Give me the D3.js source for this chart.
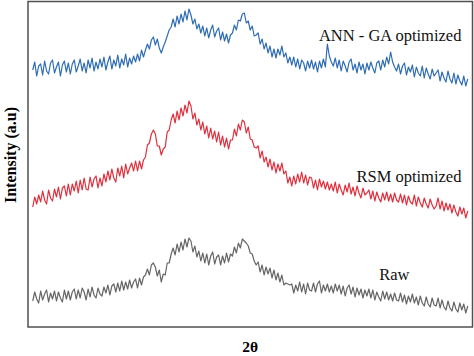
<!DOCTYPE html>
<html><head><meta charset="utf-8">
<script src="https://cdn.jsdelivr.net/npm/d3@7"></script>
<style>body{margin:0;background:#fff;}svg{display:block;}</style>
</head><body>
<script>
// 2θ sampling grid: 5° .. 60°, every 0.25°
const thetaStart = 5, thetaStep = 0.25;
const seriesNames = ["ANN - GA optimized", "RSM optimized", "Raw"];
const seriesColors = ["#2f6db3", "#e0303e", "#666666"];

const annGA = [
257,265,251,261,263,252,266,256,253,264,267,254,260,265,251,262,266,255,
264,253,263,267,255,261,268,256,264,254,267,259,269,256,265,258,268,
260,270,257,265,271,258,267,261,272,259,268,262,273,260,269,263,271,
265,273,266,277,270,
277,283,278,287,290,
282,288,279,274,280,
285,291,297,300,308,
300,311,303,313,305,316,307,318,
312,303,308,298,303,294,
301,291,299,289,297,302,290,296,
299,287,295,286,293,284,292,
294,302,297,307,306,313,
314,304,306,297,301,291,292,
294,283,288,278,284,274,
281,270,278,269,278,272,281,270,
274,264,270,
262,270,260,268,258,267,264,256,266,259,
267,258,265,255,266,259,268,260,
283,271,265,
261,269,259,267,256,266,261,255,265,268,257,263,254,265,257,263,253,264,
257,265,259,254,264,266,257,267,260,270,263,
275,265,260,256,
263,253,261,264,252,260,255,262,250,260,254,251,261,249,259,253,248,258,251,
254,257,246,255,249,245,256,248,244,254,243,252,246,242,251,241,248];

const rsm = [
120,130,123,132,125,136,127,123,137,129,126,138,130,140,128,139,141,131,
143,132,143,136,146,134,147,137,149,138,137,150,140,148,151,139,149,
141,153,145,156,147,158,149,145,159,151,161,149,163,153,159,164,156,
166,156,166,158,167,
170,182,184,193,197,
193,181,181,172,178,
180,195,197,207,213,
204,216,207,219,211,222,214,226,
221,208,214,202,208,197,
205,193,201,189,199,188,196,185,
195,182,191,180,189,178,187,
187,198,191,203,197,207,
205,194,200,188,187,180,179,
181,169,176,165,170,160,
168,157,165,154,163,156,164,153,
156,144,150,
141,151,143,153,145,155,144,152,142,150,
149,139,147,137,148,140,146,138,
145,137,143,
136,145,134,143,137,132,142,135,144,133,140,131,141,134,129,139,132,134,
137,128,136,126,135,129,125,134,127,135,126,
133,125,134,127,
125,133,124,132,122,131,125,123,132,121,130,124,120,129,123,119,128,122,118,
121,129,118,126,116,124,117,123,114,122,115,111,120,113,119,109,116];

const raw = [
26,35,28,24,36,27,33,37,25,34,28,36,26,35,29,25,37,28,
36,27,35,38,28,37,29,39,35,27,38,30,40,32,29,39,33,
31,40,34,42,32,41,43,35,44,36,46,37,45,38,47,39,45,
48,39,49,42,50,
52,58,52,62,64,
60,51,57,45,53,
52,64,64,73,79,
72,83,75,85,77,88,80,89,
86,75,81,70,76,66,
74,64,73,62,71,75,63,70,
72,62,71,64,74,65,73,
71,80,74,84,79,88,
86,84,81,74,73,66,62,
65,55,62,52,60,53,
59,49,57,47,54,45,52,42,
44,43,42,
43,34,42,36,45,35,43,33,44,37,
36,44,35,43,46,34,42,36,
43,35,41,
34,43,36,42,33,41,31,39,42,33,40,30,39,32,38,29,37,31,
38,29,37,27,35,30,26,36,28,35,27,
33,26,34,27,
26,34,25,32,23,31,25,33,24,30,22,31,24,21,30,23,20,29,22,
21,29,19,27,20,17,26,19,16,25,18,15,24,17,23,14,21];

const W = 474, H = 356;
const plot = {left: 28, right: 472.5, top: 1.5, bottom: 327};

const svg = d3.select("body").append("svg").attr("width", W).attr("height", H);

const x = d3.scaleLinear().domain([4.4, 60.6]).range([plot.left, plot.right]);
const y = d3.scaleLinear().domain([0, 325.5]).range([plot.bottom, plot.top]);

const allSeries = [annGA, rsm, raw];
const line = d3.line()
  .x((d, i) => x(thetaStart + i * thetaStep))
  .y(d => y(d));

svg.selectAll("path.trace").data(allSeries).join("path")
  .attr("class", "trace")
  .attr("d", line)
  .attr("fill", "none")
  .attr("stroke", (d, i) => seriesColors[i])
  .attr("stroke-width", 1.2)
  .attr("stroke-linejoin", "round");

// frame
svg.append("rect")
  .attr("x", plot.left).attr("y", plot.top)
  .attr("width", plot.right - plot.left).attr("height", plot.bottom - plot.top)
  .attr("fill", "none").attr("stroke", "#505050").attr("stroke-width", 1.5);

const serif = "'Liberation Serif','Times New Roman',serif";
const labelPos = [
  {t: 59.2, v: 286, anchor: "end"},
  {t: 59.2, v: 145, anchor: "end"},
  {t: 48.8, v: 47, anchor: "start"}
];
svg.selectAll("text.lbl").data(seriesNames).join("text")
  .attr("class", "lbl")
  .attr("x", (d, i) => x(labelPos[i].t))
  .attr("y", (d, i) => y(labelPos[i].v))
  .attr("text-anchor", (d, i) => labelPos[i].anchor)
  .attr("font-family", serif).attr("font-size", 16.5).attr("fill", "#111")
  .text(d => d);

svg.append("text")
  .attr("x", (plot.left + plot.right) / 2).attr("y", 352)
  .attr("text-anchor", "middle")
  .attr("font-family", serif).attr("font-size", 15.5).attr("font-weight", "bold")
  .text("2θ");

svg.append("text")
  .attr("transform", "translate(16,155) rotate(-90)")
  .attr("text-anchor", "middle")
  .attr("font-family", serif).attr("font-size", 16).attr("font-weight", "bold")
  .text("Intensity (a.u)");
</script>
</body></html>
